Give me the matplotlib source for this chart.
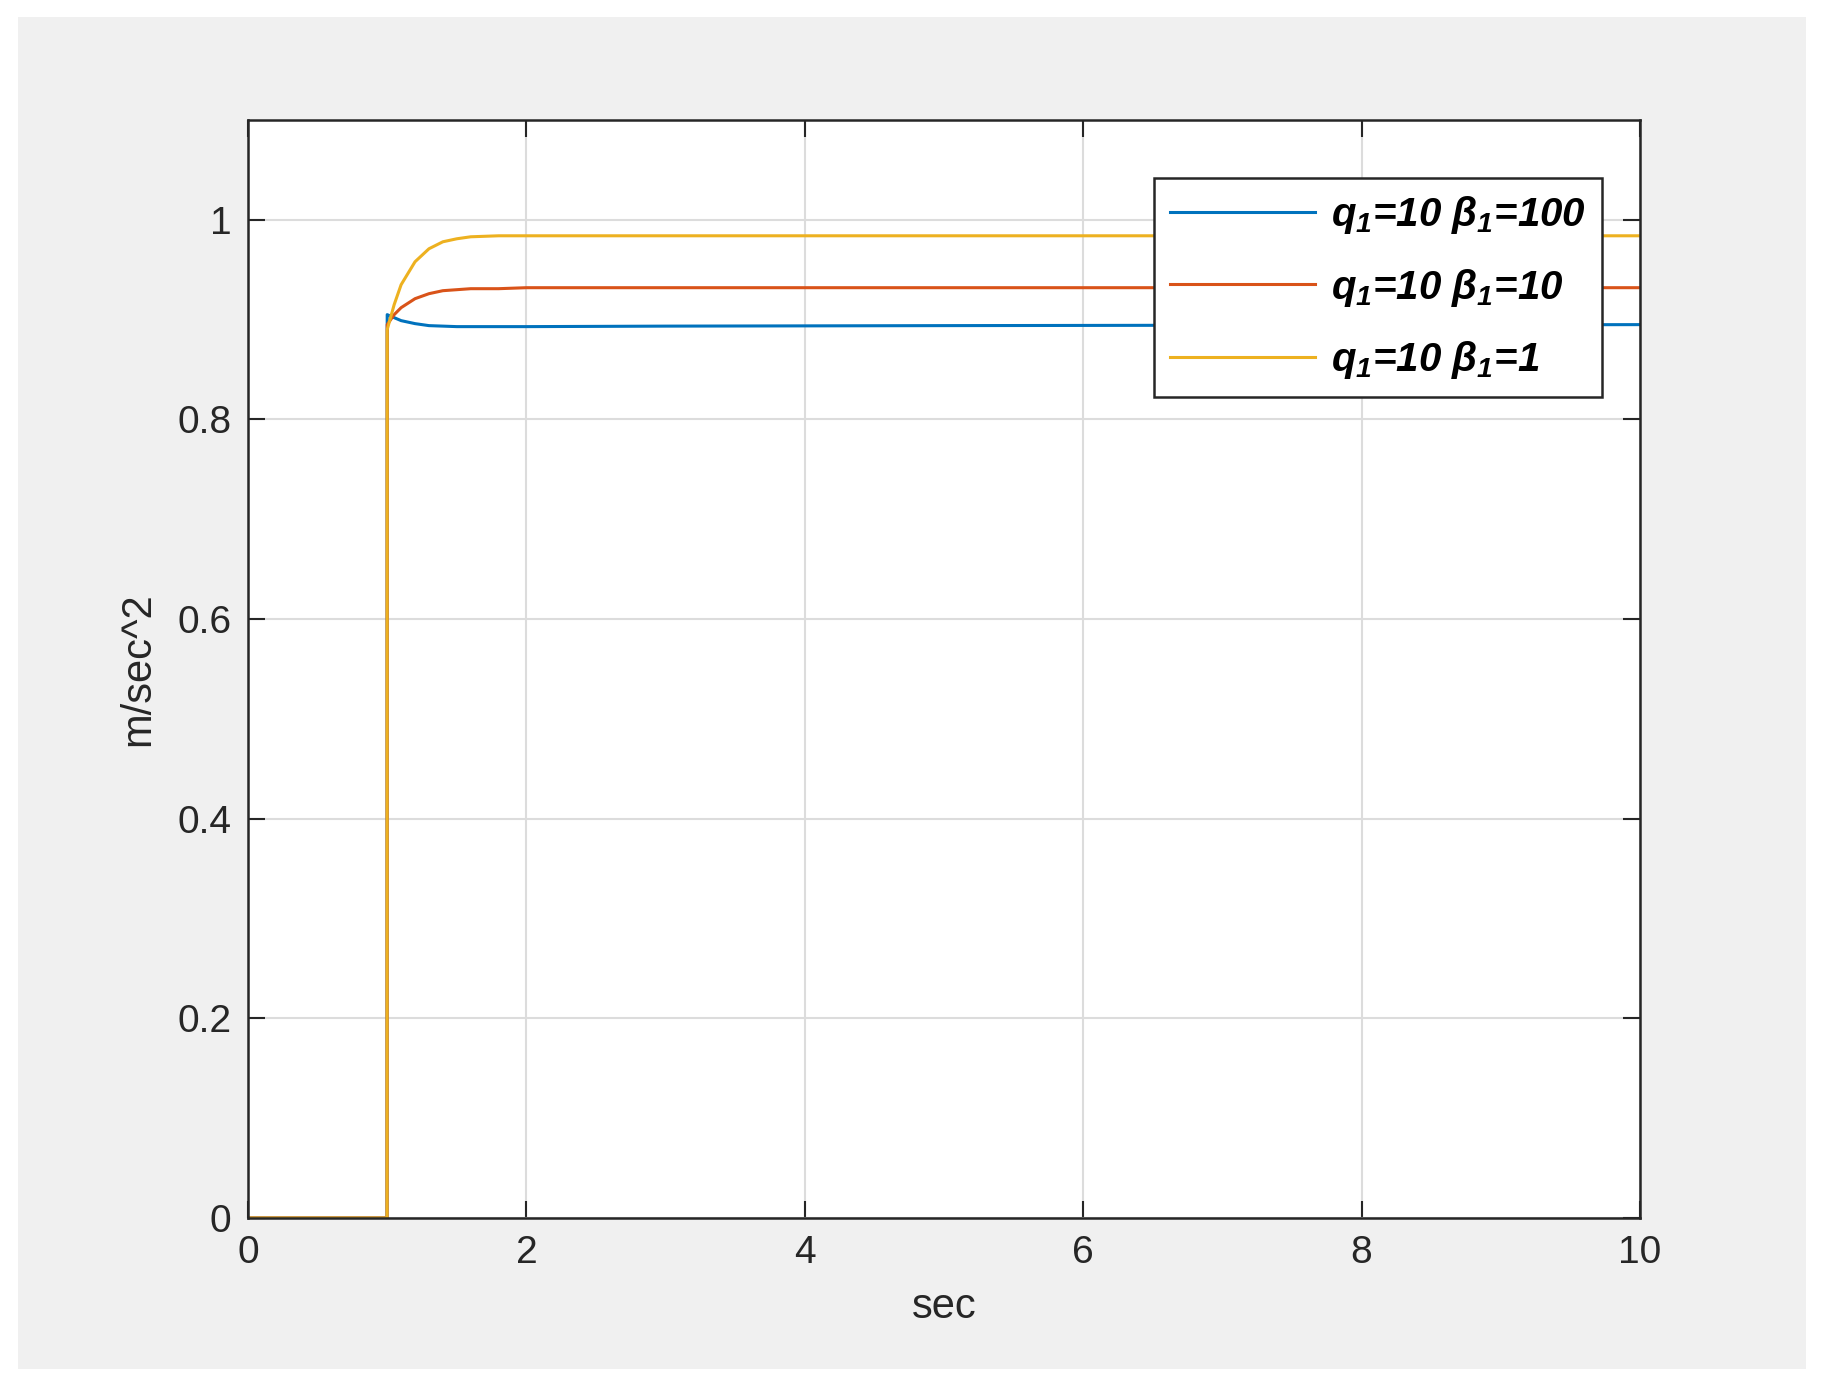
import matplotlib.pyplot as plt
from matplotlib.patches import Rectangle

plt.rcParams['font.family'] = ['Liberation Sans', 'DejaVu Sans']
plt.rcParams['mathtext.fontset'] = 'custom'
plt.rcParams['mathtext.rm'] = 'Liberation Sans:bold:italic'
plt.rcParams['mathtext.it'] = 'Liberation Sans:bold:italic'
plt.rcParams['mathtext.bf'] = 'Liberation Sans:bold:italic'

# time knots (sec) and responses
t = [0, 0.999, 1.0, 1.05, 1.1, 1.2, 1.3, 1.4, 1.5, 1.6, 1.8, 2.0, 3.0, 5.0, 10.0]
y_b100 = [0, 0, 0.905, 0.902, 0.899, 0.896, 0.894, 0.8935, 0.893, 0.893, 0.893, 0.893, 0.8935, 0.894, 0.895]
y_b10 = [0, 0, 0.895, 0.905, 0.912, 0.921, 0.926, 0.929, 0.930, 0.931, 0.931, 0.932, 0.932, 0.932, 0.932]
y_b1 = [0, 0, 0.890, 0.915, 0.935, 0.958, 0.971, 0.978, 0.981, 0.983, 0.984, 0.984, 0.984, 0.984, 0.984]
labels = [r'$q_1$=10 $\beta_1$=100',
          r'$q_1$=10 $\beta_1$=10',
          r'$q_1$=10 $\beta_1$=1']
colors = ['#0072bd', '#d95319', '#edb120']

fig = plt.figure(figsize=(18.24, 13.86), dpi=100)
fig.patches.append(Rectangle((0.01, 0.012), 0.98, 0.976, transform=fig.transFigure,
                             facecolor='#f0f0f0', edgecolor='none', zorder=-1))
ax = fig.add_axes([248 / 1824, 1 - 1218 / 1386, 1392 / 1824, 1098 / 1386])

for y, lab, c in zip([y_b100, y_b10, y_b1], labels, colors):
    ax.plot(t, y, color=c, lw=2.2, label=lab)

ax.set_xlim(0, 10)
ax.set_ylim(0, 1.1)
ax.set_xticks([0, 2, 4, 6, 8, 10])
ax.set_yticks([0, 0.2, 0.4, 0.6, 0.8, 1])
ax.set_yticklabels(['0', '0.2', '0.4', '0.6', '0.8', '1'])
ax.grid(True, color='#dcdcdc', lw=1.5)
ax.set_axisbelow(True)
ax.tick_params(labelsize=28, direction='in', length=12, width=1.5, pad=12,
               top=True, right=True, colors='#262626')
for s in ax.spines.values():
    s.set_linewidth(1.8)
    s.set_color('#262626')
ax.set_xlabel('sec', fontsize=30, color='#262626', labelpad=12)
ax.set_ylabel('m/sec^2', fontsize=30, color='#262626', labelpad=14)

leg = ax.legend(loc='upper right', bbox_to_anchor=(0.973, 0.947), fancybox=False,
                framealpha=1, edgecolor='#262626', handlelength=3.6, labelspacing=0.75,
                handletextpad=0.4, borderpad=0.4, borderaxespad=0,
                prop={'size': 29, 'weight': 'bold', 'style': 'italic'})
leg.get_frame().set_linewidth(1.8)
fig.savefig('out.png', facecolor='white')
